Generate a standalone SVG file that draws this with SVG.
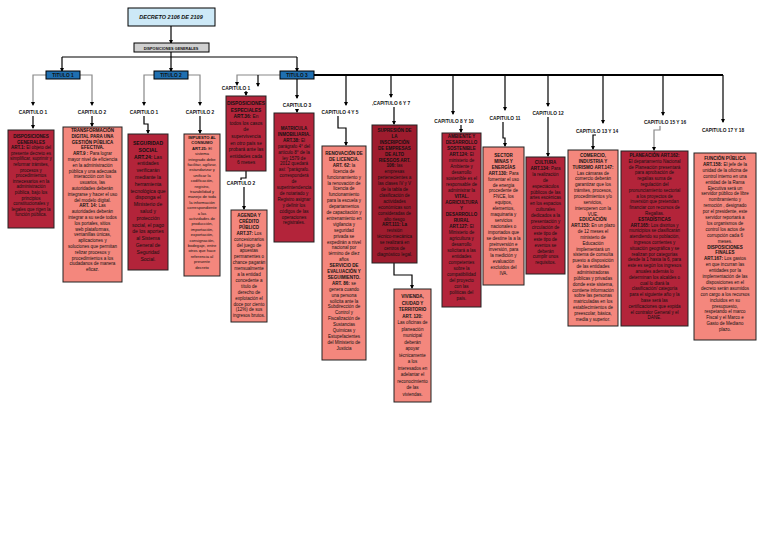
<svg xmlns="http://www.w3.org/2000/svg" width="768" height="539" viewBox="0 0 768 539">
<defs>
<marker id="ar" markerWidth="4" markerHeight="4" refX="3" refY="2" orient="auto" markerUnits="userSpaceOnUse"><path d="M0,0 L4,2 L0,4 z" fill="#000"/></marker>
<style>
.c{fill:none;stroke:#000;stroke-width:1.2;marker-end:url(#ar)}
.cn{fill:none;stroke:#000;stroke-width:1.2}
.cg{fill:none;stroke:#888;stroke-width:1.2;marker-end:url(#ar)}
.r{fill:#b3243a;stroke:#222;stroke-width:1}
.d{fill:#9e1c2e;stroke:#222;stroke-width:1}
.s{fill:#f4877d;stroke:#222;stroke-width:1}
.t{fill:#1f6fb0;stroke:#000;stroke-width:1}
text{font-family:"Liberation Sans",Arial,sans-serif;fill:#111;text-anchor:middle}
.bx{font-size:4.5px}
.b{font-weight:bold}
.lb{font-size:4.8px;font-weight:bold}
</style>
</defs>
<rect width="768" height="539" fill="#fff"/>
<g id="connectors">
<path class="c" d="M171,26 V43"/>
<path class="cn" d="M171,52 V57"/>
<path class="c" d="M62,57 H297 M62,57 V71"/>
<path class="c" d="M171,57 V71"/>
<path class="c" d="M297,57 V71"/>
<path class="cg" d="M46,75 H33 V105"/>
<path class="cg" d="M80,75 H92 V105"/>
<path class="c" d="M33,116 V128"/>
<path class="c" d="M92,116 V126"/>
<path class="cg" d="M154,75 H144 V105"/>
<path class="cg" d="M188,75 H200 V105"/>
<path class="c" d="M144,116 V124 H148 V133"/>
<path class="c" d="M200,116 V133"/>
<path class="cg" d="M280,75 H237 V85"/>
<path class="c" d="M258,75 V86"/>
<path class="c" d="M246,91 V95"/>
<path class="c" d="M297,79 V98"/>
<path class="c" d="M297,110 V112"/>
<path class="cn" d="M246,171 V178 H241 V180"/>
<path class="c" d="M244,187 V209"/>
<path style="fill:none;stroke:#000;stroke-width:2" d="M314,75 H723"/>
<path class="c" d="M346,75 V105"/>
<path class="c" d="M338,116 V128 H346 V145"/>
<path class="c" d="M391,75 V97"/>
<path class="c" d="M394,107 V124"/>
<path class="c" d="M394,263 V275 H412 V288"/>
<path class="c" d="M453,75 V114"/>
<path class="c" d="M461,125 V132"/>
<path class="c" d="M505,75 V110"/>
<path class="c" d="M503,122 V138 H505 V146"/>
<path class="c" d="M548,75 V106"/>
<path class="c" d="M548,117 V156"/>
<path class="c" d="M603,75 V123"/>
<path class="c" d="M596,135 H593 V149"/>
<path class="c" d="M663,75 V115"/>
<path class="cg" d="M660,126 V130 H654 V150"/>
<path class="c" d="M723,75 V122"/>
</g>
<g id="head">
<rect x="128" y="8" width="87" height="18" fill="#cde9f7" stroke="#000"/>
<text x="171" y="19" style="font-size:5.5px;font-weight:bold;font-style:italic">DECRETO 2106 DE 2109</text>
</g>
<g id="disp"><rect x="134" y="43" width="75" height="9" fill="#d0d0d0" stroke="#000"/><text x="171" y="49.5" style="font-size:3.8px;font-weight:bold">DISPOSICIONES GENERALES</text></g>
<g id="t1"><rect class="t" x="46" y="71" width="34" height="8"/><text x="63" y="77" class="lb">TITULO 1</text></g>
<g id="t2"><rect class="t" x="154" y="71" width="34" height="8"/><text x="171" y="77" class="lb">TITULO 2</text></g>
<g id="t3"><rect class="t" x="280" y="71" width="34" height="8"/><text x="297" y="77" class="lb">TITULO 3</text></g>
<g id="labels">
<text class="lb" x="33" y="114">CAPITULO 1</text>
<text class="lb" x="92" y="114">CAPITULO 2</text>
<text class="lb" x="144" y="114">CAPITULO 1</text>
<text class="lb" x="200" y="114">CAPITULO 2</text>
<text class="lb" x="236" y="90">CAPITULO 1</text>
<text class="lb" x="297" y="107">CAPITULO 3</text>
<text class="lb" x="241" y="185">CAPITULO 2</text>
<text class="lb" x="340" y="114">CAPITULO 4 Y 5</text>
<text class="lb" x="391" y="105">,CAPITULO 6 Y 7</text>
<text class="lb" x="454" y="123">CAPITULO 8 Y 10</text>
<text class="lb" x="505" y="120">CAPITULO 11</text>
<text class="lb" x="548" y="115">CAPITULO 12</text>
<text class="lb" x="597" y="133">CAPITULO 13 Y 14</text>
<text class="lb" x="665" y="124">CAPITULO 15 Y 16</text>
<text class="lb" x="723" y="132">CAPITULO 17 Y 18</text>
</g>
<g id="n1"><rect class="r" x="8" y="130" width="46" height="98"/>
<text class="bx" y="138"><tspan x="31" class="b">DISPOSICIONES</tspan><tspan x="31" dy="5.6" class="b">GENERALES</tspan><tspan x="31" dy="5.6"><tspan class="b">ART.1:</tspan> El objeto del</tspan><tspan x="31" dy="5.6">presente decreto es</tspan><tspan x="31" dy="5.6">simplificar, suprimir y</tspan><tspan x="31" dy="5.6">reformar trámites,</tspan><tspan x="31" dy="5.6">procesos y</tspan><tspan x="31" dy="5.6">procedimientos</tspan><tspan x="31" dy="5.6">innecesarios en la</tspan><tspan x="31" dy="5.6">administración</tspan><tspan x="31" dy="5.6">pública, bajo los</tspan><tspan x="31" dy="5.6">principios</tspan><tspan x="31" dy="5.6">constitucionales y</tspan><tspan x="31" dy="5.6">legales que rigen la</tspan><tspan x="31" dy="5.6">función pública.</tspan></text></g>
<g id="n2"><rect class="s" x="63" y="127" width="59" height="155"/>
<text class="bx" y="132"><tspan x="92.5" class="b">TRANSFORMACIÓN</tspan><tspan x="92.5" dy="5.8" class="b">DIGITAL PARA UNA</tspan><tspan x="92.5" dy="5.8" class="b">GESTIÓN PÚBLICA</tspan><tspan x="92.5" dy="5.8" class="b">EFECTIVA.</tspan><tspan x="92.5" dy="5.8"><tspan class="b">ART.9 :</tspan> Para lograr</tspan><tspan x="92.5" dy="5.8">mayor nivel de eficiencia</tspan><tspan x="92.5" dy="5.8">en la administración</tspan><tspan x="92.5" dy="5.8">pública y una adecuada</tspan><tspan x="92.5" dy="5.8">interacción con los</tspan><tspan x="92.5" dy="5.8">usuarios, las</tspan><tspan x="92.5" dy="5.8">autoridades deberán</tspan><tspan x="92.5" dy="5.8">integrarse y hacer el uso</tspan><tspan x="92.5" dy="5.8">del modelo digital.</tspan><tspan x="92.5" dy="5.8"><tspan class="b">ART. 14:</tspan> Las</tspan><tspan x="92.5" dy="5.8">autoridades deberán</tspan><tspan x="92.5" dy="5.8">integrar a su sede todos</tspan><tspan x="92.5" dy="5.8">los portales, sitios</tspan><tspan x="92.5" dy="5.8">web plataformas,</tspan><tspan x="92.5" dy="5.8">ventanillas únicas,</tspan><tspan x="92.5" dy="5.8">aplicaciones y</tspan><tspan x="92.5" dy="5.8">soluciones que permitan</tspan><tspan x="92.5" dy="5.8">relizar procesos y</tspan><tspan x="92.5" dy="5.8">procedimientos a los</tspan><tspan x="92.5" dy="5.8">ciudadanos de manera</tspan><tspan x="92.5" dy="5.8">eficaz.</tspan></text></g>
<g id="n3"><rect class="r" x="128" y="134" width="40" height="136"/>
<text style="font-size:5px" y="145"><tspan x="148" class="b">SEGURIDAD</tspan><tspan x="148" dy="6.8" class="b">SOCIAL</tspan><tspan x="148" dy="6.8"><tspan class="b">ART.24:</tspan> Las</tspan><tspan x="148" dy="6.8">entidades</tspan><tspan x="148" dy="6.8">verificarán</tspan><tspan x="148" dy="6.8">mediante la</tspan><tspan x="148" dy="6.8">herramienta</tspan><tspan x="148" dy="6.8">tecnológica que</tspan><tspan x="148" dy="6.8">disponga el</tspan><tspan x="148" dy="6.8">Ministerio de</tspan><tspan x="148" dy="6.8">salud y</tspan><tspan x="148" dy="6.8">protección</tspan><tspan x="148" dy="6.8">social, el pago</tspan><tspan x="148" dy="6.8">de los aportes</tspan><tspan x="148" dy="6.8">al Sistema</tspan><tspan x="148" dy="6.8">General de</tspan><tspan x="148" dy="6.8">Seguridad</tspan><tspan x="148" dy="6.8">Social.</tspan></text></g>
<g id="n4"><rect class="s" x="184" y="134" width="36" height="142"/>
<text style="font-size:4.1px" y="139"><tspan x="202" class="b">IMPUESTO AL</tspan><tspan x="202" dy="5.4" class="b">CONSUMO</tspan><tspan x="202" dy="5.4"><tspan class="b">ART.25:</tspan> El</tspan><tspan x="202" dy="5.4">sistema</tspan><tspan x="202" dy="5.4">integrado debe</tspan><tspan x="202" dy="5.4">facilitar, agilizar,</tspan><tspan x="202" dy="5.4">estandarizar y</tspan><tspan x="202" dy="5.4">unificar la</tspan><tspan x="202" dy="5.4">codificación,</tspan><tspan x="202" dy="5.4">registro,</tspan><tspan x="202" dy="5.4">trazabilidad y</tspan><tspan x="202" dy="5.4">manejo de toda</tspan><tspan x="202" dy="5.4">la información</tspan><tspan x="202" dy="5.4">correspondiente</tspan><tspan x="202" dy="5.4">a las</tspan><tspan x="202" dy="5.4">actividades de</tspan><tspan x="202" dy="5.4">producción,</tspan><tspan x="202" dy="5.4">importación,</tspan><tspan x="202" dy="5.4">exportación,</tspan><tspan x="202" dy="5.4">consignación,</tspan><tspan x="202" dy="5.4">bodegaje, entre</tspan><tspan x="202" dy="5.4">otros que hace</tspan><tspan x="202" dy="5.4">referencia al</tspan><tspan x="202" dy="5.4">presente</tspan><tspan x="202" dy="5.4">decreto</tspan></text></g>
<g id="n5"><rect class="r" x="226" y="96" width="40" height="75"/>
<text style="font-size:4.8px" y="105"><tspan x="246" class="b">DISPOSICIONES</tspan><tspan x="246" dy="6.6" class="b">ESPECIALES</tspan><tspan x="246" dy="6.6"><tspan class="b">ART.36:</tspan> En</tspan><tspan x="246" dy="6.6">todos los casos</tspan><tspan x="246" dy="6.6">de</tspan><tspan x="246" dy="6.6">supervivencia</tspan><tspan x="246" dy="6.6">en otro país se</tspan><tspan x="246" dy="6.6">probará ante las</tspan><tspan x="246" dy="6.6">entidades cada</tspan><tspan x="246" dy="6.6">6 meses</tspan></text></g>
<g id="n6"><rect class="s" x="231" y="210" width="36" height="112"/>
<text class="bx" y="217"><tspan x="249" class="b">AGENDA Y</tspan><tspan x="249" dy="5.9" class="b">CRÉDITO</tspan><tspan x="249" dy="5.9" class="b">PÚBLICO</tspan><tspan x="249" dy="5.9"><tspan class="b">ART.37:</tspan> Los</tspan><tspan x="249" dy="5.9">concesionarios</tspan><tspan x="249" dy="5.9">del juego de</tspan><tspan x="249" dy="5.9">apuestas</tspan><tspan x="249" dy="5.9">permanentes o</tspan><tspan x="249" dy="5.9">chance pagarán</tspan><tspan x="249" dy="5.9">mensualmente</tspan><tspan x="249" dy="5.9">a la entidad</tspan><tspan x="249" dy="5.9">concedente a</tspan><tspan x="249" dy="5.9">título de</tspan><tspan x="249" dy="5.9">derecho de</tspan><tspan x="249" dy="5.9">explotación el</tspan><tspan x="249" dy="5.9">doce por ciento</tspan><tspan x="249" dy="5.9">(12%) de sus</tspan><tspan x="249" dy="5.9">ingresos brutos.</tspan></text></g>
<g id="n7"><rect class="r" x="274" y="113" width="40" height="129"/>
<text class="bx" y="130"><tspan x="294" class="b">MATRICULA</tspan><tspan x="294" dy="5.9" class="b">INMOBILIARIA.</tspan><tspan x="294" dy="5.9"><tspan class="b">ART.38:</tspan> El</tspan><tspan x="294" dy="5.9">parágrafo 4° del</tspan><tspan x="294" dy="5.9">artículo 8° de la</tspan><tspan x="294" dy="5.9">ley 1579 de</tspan><tspan x="294" dy="5.9">2012 quedará</tspan><tspan x="294" dy="5.9">así: "parágrafo.</tspan><tspan x="294" dy="5.9">corresponderá</tspan><tspan x="294" dy="5.9">de</tspan><tspan x="294" dy="5.9">superintendencia</tspan><tspan x="294" dy="5.9">de notariado y</tspan><tspan x="294" dy="5.9">Registro asignar</tspan><tspan x="294" dy="5.9">y definir los</tspan><tspan x="294" dy="5.9">códigos de las</tspan><tspan x="294" dy="5.9">operaciones</tspan><tspan x="294" dy="5.9">registrales.</tspan></text></g>
<g id="n8"><rect class="s" x="322" y="146" width="44" height="214"/>
<text class="bx" y="155"><tspan x="344" class="b">RENOVACIÓN DE</tspan><tspan x="344" dy="5.9" class="b">DE LICENCIA.</tspan><tspan x="344" dy="5.9"><tspan class="b">ART. 62:</tspan> la</tspan><tspan x="344" dy="5.9">licencia de</tspan><tspan x="344" dy="5.9">funcionamiento y</tspan><tspan x="344" dy="5.9">la renovación de</tspan><tspan x="344" dy="5.9">licencia de</tspan><tspan x="344" dy="5.9">funcionamiento</tspan><tspan x="344" dy="5.9">para la escuela y</tspan><tspan x="344" dy="5.9">departamentos</tspan><tspan x="344" dy="5.9">de capacitación y</tspan><tspan x="344" dy="5.9">entrenamiento en</tspan><tspan x="344" dy="5.9">vigilancia y</tspan><tspan x="344" dy="5.9">seguridad</tspan><tspan x="344" dy="5.9">privada se</tspan><tspan x="344" dy="5.9">expedirán a nivel</tspan><tspan x="344" dy="5.9">nacional por</tspan><tspan x="344" dy="5.9">término de diez</tspan><tspan x="344" dy="5.9">años</tspan><tspan x="344" dy="5.9" class="b">SERVICIO DE</tspan><tspan x="344" dy="5.9" class="b">EVALUACIÓN Y</tspan><tspan x="344" dy="5.9" class="b">SEGUIMIENTO.</tspan><tspan x="344" dy="5.9"><tspan class="b">ART. 86:</tspan> se</tspan><tspan x="344" dy="5.9">genera cuando</tspan><tspan x="344" dy="5.9">una persona</tspan><tspan x="344" dy="5.9">solicita ante la</tspan><tspan x="344" dy="5.9">Subdirección de</tspan><tspan x="344" dy="5.9">Control y</tspan><tspan x="344" dy="5.9">Fiscalización de</tspan><tspan x="344" dy="5.9">Sustancias</tspan><tspan x="344" dy="5.9">Químicas y</tspan><tspan x="344" dy="5.9">Estupefacientes</tspan><tspan x="344" dy="5.9">del Ministerio de</tspan><tspan x="344" dy="5.9">Justicia</tspan></text></g>
<g id="n9"><rect class="d" x="372" y="125" width="45" height="138"/>
<text class="bx" y="132"><tspan x="394.5" class="b">SUPRESIÓN DE</tspan><tspan x="394.5" dy="5.9" class="b">LA</tspan><tspan x="394.5" dy="5.9" class="b">INSCRIPCIÓN</tspan><tspan x="394.5" dy="5.9" class="b">DE EMPRESAS</tspan><tspan x="394.5" dy="5.9" class="b">DE ALTO</tspan><tspan x="394.5" dy="5.9" class="b">RIESGOS ART.</tspan><tspan x="394.5" dy="5.9"><tspan class="b">106:</tspan> las</tspan><tspan x="394.5" dy="5.9">empresas</tspan><tspan x="394.5" dy="5.9">pertenecientes a</tspan><tspan x="394.5" dy="5.9">las clases IV y V</tspan><tspan x="394.5" dy="5.9">de la tabla de</tspan><tspan x="394.5" dy="5.9">clasificación de</tspan><tspan x="394.5" dy="5.9">actividades</tspan><tspan x="394.5" dy="5.9">económicas son</tspan><tspan x="394.5" dy="5.9">consideradas de</tspan><tspan x="394.5" dy="5.9">alto riesgo</tspan><tspan x="394.5" dy="5.9" class="b">ART.111: La</tspan><tspan x="394.5" dy="5.9">revisión</tspan><tspan x="394.5" dy="5.9">técnico-mecánica</tspan><tspan x="394.5" dy="5.9">se realizará en</tspan><tspan x="394.5" dy="5.9">centros de</tspan><tspan x="394.5" dy="5.9">diagnóstico legal.</tspan></text></g>
<g id="n10"><rect class="s" x="394" y="289" width="37" height="113"/>
<text class="bx" y="298"><tspan x="412.5" class="b">VIVIENDA,</tspan><tspan x="412.5" dy="6.5" class="b">CIUDAD Y</tspan><tspan x="412.5" dy="6.5" class="b">TERRITORIO</tspan><tspan x="412.5" dy="6.5" class="b">ART. 120:</tspan><tspan x="412.5" dy="6.5">Las oficinas de</tspan><tspan x="412.5" dy="6.5">planeación</tspan><tspan x="412.5" dy="6.5">municipal</tspan><tspan x="412.5" dy="6.5">deberán</tspan><tspan x="412.5" dy="6.5">apoyar</tspan><tspan x="412.5" dy="6.5">técnicamente</tspan><tspan x="412.5" dy="6.5">a los</tspan><tspan x="412.5" dy="6.5">interesados en</tspan><tspan x="412.5" dy="6.5">adelantar el</tspan><tspan x="412.5" dy="6.5">reconocimiento</tspan><tspan x="412.5" dy="6.5">de las</tspan><tspan x="412.5" dy="6.5">viviendas.</tspan></text></g>
<g id="n11"><rect class="r" x="442" y="133" width="39" height="174"/>
<text class="bx" y="138"><tspan x="461.5" class="b">AMBIENTE Y</tspan><tspan x="461.5" dy="6" class="b">DESARROLLO</tspan><tspan x="461.5" dy="6" class="b">SOSTENIBLE</tspan><tspan x="461.5" dy="6"><tspan class="b">ART.124:</tspan> El</tspan><tspan x="461.5" dy="6">ministerio de</tspan><tspan x="461.5" dy="6">Ambiente y</tspan><tspan x="461.5" dy="6">desarrollo</tspan><tspan x="461.5" dy="6">sostenible es el</tspan><tspan x="461.5" dy="6">responsable de</tspan><tspan x="461.5" dy="6">administrar la</tspan><tspan x="461.5" dy="6" class="b">VITAL.</tspan><tspan x="461.5" dy="6" class="b">AGRICULTURA</tspan><tspan x="461.5" dy="6" class="b">Y</tspan><tspan x="461.5" dy="6" class="b">DESARROLLO</tspan><tspan x="461.5" dy="6" class="b">RURAL</tspan><tspan x="461.5" dy="6"><tspan class="b">ART.127:</tspan> El</tspan><tspan x="461.5" dy="6">Ministerio de</tspan><tspan x="461.5" dy="6">agricultura y</tspan><tspan x="461.5" dy="6">desarrollo</tspan><tspan x="461.5" dy="6">solicitará a las</tspan><tspan x="461.5" dy="6">entidades</tspan><tspan x="461.5" dy="6">competentes</tspan><tspan x="461.5" dy="6">sobre la</tspan><tspan x="461.5" dy="6">compatibilidad</tspan><tspan x="461.5" dy="6">del proyecto</tspan><tspan x="461.5" dy="6">con las</tspan><tspan x="461.5" dy="6">políticas del</tspan><tspan x="461.5" dy="6">país.</tspan></text></g>
<g id="n12"><rect class="s" x="483" y="147" width="41" height="138"/>
<text class="bx" y="157"><tspan x="503.5" class="b">SECTOR</tspan><tspan x="503.5" dy="5.9" class="b">MINAS Y</tspan><tspan x="503.5" dy="5.9" class="b">ENERGÍAS</tspan><tspan x="503.5" dy="5.9"><tspan class="b">ART.130:</tspan> Para</tspan><tspan x="503.5" dy="5.9">fomentar el uso</tspan><tspan x="503.5" dy="5.9">de energía</tspan><tspan x="503.5" dy="5.9">procedente de</tspan><tspan x="503.5" dy="5.9">FNCE, los</tspan><tspan x="503.5" dy="5.9">equipos,</tspan><tspan x="503.5" dy="5.9">elementos,</tspan><tspan x="503.5" dy="5.9">maquinaria y</tspan><tspan x="503.5" dy="5.9">servicios</tspan><tspan x="503.5" dy="5.9">nacionales o</tspan><tspan x="503.5" dy="5.9">importados que</tspan><tspan x="503.5" dy="5.9">se destine la a la</tspan><tspan x="503.5" dy="5.9">preinversión e</tspan><tspan x="503.5" dy="5.9">inversión, para</tspan><tspan x="503.5" dy="5.9">la medición y</tspan><tspan x="503.5" dy="5.9">evaluación</tspan><tspan x="503.5" dy="5.9">excluidos del</tspan><tspan x="503.5" dy="5.9">IVA.</tspan></text></g>
<g id="n13"><rect class="r" x="526" y="157" width="39" height="117"/>
<text class="bx" y="164"><tspan x="545.5" class="b">CULTURA</tspan><tspan x="545.5" dy="5.9"><tspan class="b">ART.134:</tspan> Para</tspan><tspan x="545.5" dy="5.9">la realización</tspan><tspan x="545.5" dy="5.9">de</tspan><tspan x="545.5" dy="5.9">espectáculos</tspan><tspan x="545.5" dy="5.9">públicos de las</tspan><tspan x="545.5" dy="5.9">artes escénicas</tspan><tspan x="545.5" dy="5.9">en los espacios</tspan><tspan x="545.5" dy="5.9">culturales</tspan><tspan x="545.5" dy="5.9">dedicados a la</tspan><tspan x="545.5" dy="5.9">presentación y</tspan><tspan x="545.5" dy="5.9">circulación de</tspan><tspan x="545.5" dy="5.9">este tipo de</tspan><tspan x="545.5" dy="5.9">este tipo de</tspan><tspan x="545.5" dy="5.9">eventos se</tspan><tspan x="545.5" dy="5.9">deberán</tspan><tspan x="545.5" dy="5.9">cumplir unos</tspan><tspan x="545.5" dy="5.9">requisitos.</tspan></text></g>
<g id="n14"><rect class="s" x="568" y="150" width="50" height="176"/>
<text class="bx" y="157"><tspan x="593" class="b">COMERCIO,</tspan><tspan x="593" dy="5.85" class="b">INDUSTRIA Y</tspan><tspan x="593" dy="5.85" class="b">TURISMO ART.147:</tspan><tspan x="593" dy="5.85">Las cámaras de</tspan><tspan x="593" dy="5.85">comercio deberán</tspan><tspan x="593" dy="5.85">garantizar que los</tspan><tspan x="593" dy="5.85">trámites, procesos,</tspan><tspan x="593" dy="5.85">procedimientos y/o</tspan><tspan x="593" dy="5.85">servicios,</tspan><tspan x="593" dy="5.85">interoperen con la</tspan><tspan x="593" dy="5.85">VUE.</tspan><tspan x="593" dy="5.85" class="b">EDUCACIÓN</tspan><tspan x="593" dy="5.85"><tspan class="b">ART.153:</tspan> En un plazo</tspan><tspan x="593" dy="5.85">de 12 meses el</tspan><tspan x="593" dy="5.85">ministerio de</tspan><tspan x="593" dy="5.85">Educación</tspan><tspan x="593" dy="5.85">implementará un</tspan><tspan x="593" dy="5.85">sistema de consulta</tspan><tspan x="593" dy="5.85">puesto a disposición</tspan><tspan x="593" dy="5.85">de las entidades</tspan><tspan x="593" dy="5.85">administradoras</tspan><tspan x="593" dy="5.85">públicas y privadas</tspan><tspan x="593" dy="5.85">donde este sistema,</tspan><tspan x="593" dy="5.85">contiene información</tspan><tspan x="593" dy="5.85">sobre las personas</tspan><tspan x="593" dy="5.85">matriculadas en los</tspan><tspan x="593" dy="5.85">establecimientos de</tspan><tspan x="593" dy="5.85">preescolar, básica,</tspan><tspan x="593" dy="5.85">media y superior.</tspan></text></g>
<g id="n15"><rect class="r" x="621" y="151" width="67" height="175"/>
<text class="bx" y="157"><tspan x="654.5" class="b">PLANEACIÓN ART.162:</tspan><tspan x="654.5" dy="5.8">El departamento Nacional</tspan><tspan x="654.5" dy="5.8">de Planeación presentará</tspan><tspan x="654.5" dy="5.8">para aprobación de</tspan><tspan x="654.5" dy="5.8">regalías suma de</tspan><tspan x="654.5" dy="5.8">regulación del</tspan><tspan x="654.5" dy="5.8">pronunciamiento sectorial</tspan><tspan x="654.5" dy="5.8">a los proyectos de</tspan><tspan x="654.5" dy="5.8">inversión que pretendan</tspan><tspan x="654.5" dy="5.8">financiar con recursos de</tspan><tspan x="654.5" dy="5.8">Regalías.</tspan><tspan x="654.5" dy="5.8" class="b">ESTADÍSTICAS</tspan><tspan x="654.5" dy="5.8"><tspan class="b">ART.165:</tspan> Los distritos y</tspan><tspan x="654.5" dy="5.8">municipios se clasificarán</tspan><tspan x="654.5" dy="5.8">atendiendo su población,</tspan><tspan x="654.5" dy="5.8">ingresos corrientes y</tspan><tspan x="654.5" dy="5.8">situación geográfica y se</tspan><tspan x="654.5" dy="5.8">realizan por categorías</tspan><tspan x="654.5" dy="5.8">desde la 1 hasta la 6, para</tspan><tspan x="654.5" dy="5.8">este es según los ingresos</tspan><tspan x="654.5" dy="5.8">anuales además lo</tspan><tspan x="654.5" dy="5.8">determinan los alcaldes o</tspan><tspan x="654.5" dy="5.8">cual lo diará la</tspan><tspan x="654.5" dy="5.8">clasificación/ categoría</tspan><tspan x="654.5" dy="5.8">para el siguiente año y la</tspan><tspan x="654.5" dy="5.8">base será las</tspan><tspan x="654.5" dy="5.8">certificaciones que expida</tspan><tspan x="654.5" dy="5.8">el contralor General y el</tspan><tspan x="654.5" dy="5.8">DANE.</tspan></text></g>
<g id="n16"><rect class="s" x="694" y="153" width="62" height="187"/>
<text class="bx" y="160"><tspan x="725" class="b">FUNCIÓN PÚBLICA</tspan><tspan x="725" dy="5.9"><tspan class="b">ART.158:</tspan> El jefe de la</tspan><tspan x="725" dy="5.9">unidad de la oficina de</tspan><tspan x="725" dy="5.9">control interno en una</tspan><tspan x="725" dy="5.9">entidad de la Rama</tspan><tspan x="725" dy="5.9">Ejecutiva será un</tspan><tspan x="725" dy="5.9">servidor público de libre</tspan><tspan x="725" dy="5.9">nombramiento y</tspan><tspan x="725" dy="5.9">remoción , designado</tspan><tspan x="725" dy="5.9">por el presidente, este</tspan><tspan x="725" dy="5.9">servidor reportará a</tspan><tspan x="725" dy="5.9">los organismos de</tspan><tspan x="725" dy="5.9">control los actos de</tspan><tspan x="725" dy="5.9">corrupción cada 6</tspan><tspan x="725" dy="5.9">meses.</tspan><tspan x="725" dy="5.9" class="b">DISPOSICIONES</tspan><tspan x="725" dy="5.9" class="b">FINALES</tspan><tspan x="725" dy="5.9"><tspan class="b">ART.167:</tspan> Los gastos</tspan><tspan x="725" dy="5.9">en que incurran las</tspan><tspan x="725" dy="5.9">entidades por la</tspan><tspan x="725" dy="5.9">implementación de las</tspan><tspan x="725" dy="5.9">disposiciones en el</tspan><tspan x="725" dy="5.9">decreto serán asumidos</tspan><tspan x="725" dy="5.9">con cargo a los recursos</tspan><tspan x="725" dy="5.9">incluidos en su</tspan><tspan x="725" dy="5.9">presupuesto,</tspan><tspan x="725" dy="5.9">respetando el marco</tspan><tspan x="725" dy="5.9">Fiscal y el Marco e</tspan><tspan x="725" dy="5.9">Gasto de Mediano</tspan><tspan x="725" dy="5.9">plazo.</tspan></text></g>
</svg>
